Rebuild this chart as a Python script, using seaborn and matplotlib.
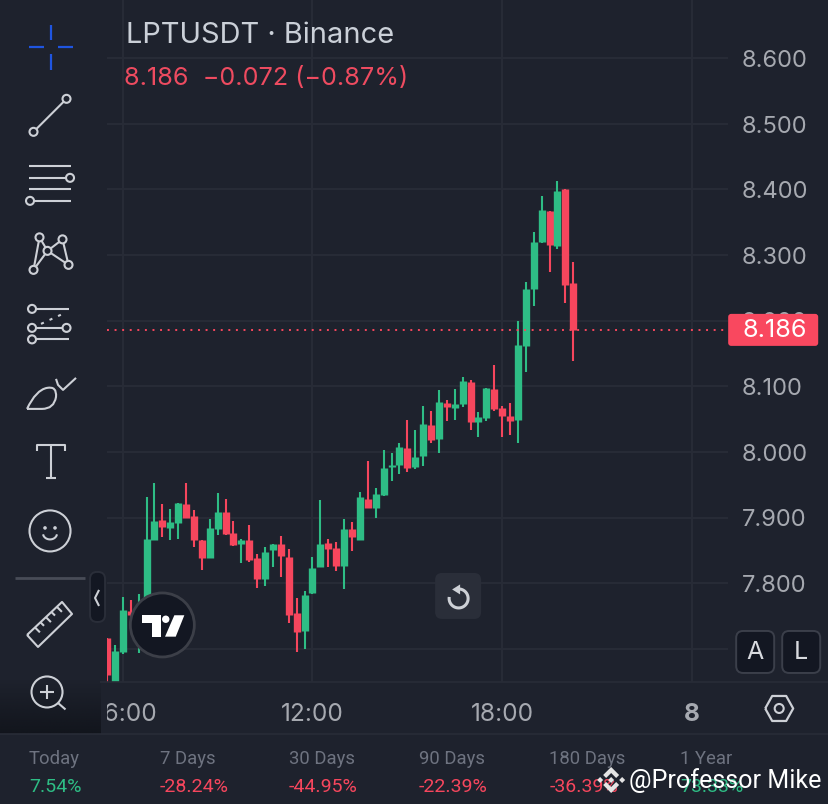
import numpy as np
import pandas as pd
import matplotlib
matplotlib.use('Agg')
import matplotlib.pyplot as plt
import seaborn as sns
from matplotlib.patches import Circle, FancyBboxPatch, PathPatch, Polygon
from matplotlib.path import Path

# 15 min candles
opens = [7.716, 7.640, 7.695, 7.758, 7.720, 7.764, 7.866, 7.896, 7.884, 7.891,
         7.920, 7.903, 7.866, 7.839, 7.883, 7.909, 7.876, 7.859, 7.866, 7.838,
         7.806, 7.851, 7.860, 7.840, 7.754, 7.727, 7.785, 7.825, 7.861, 7.854,
         7.826, 7.883, 7.866, 7.929, 7.915, 7.934, 7.977, 7.980, 8.006, 7.977,
         7.994, 8.041, 8.019, 8.075, 8.067, 8.073, 8.106, 8.045, 8.051, 8.096,
         8.067, 8.055, 8.048, 8.161, 8.249, 8.320, 8.367, 8.314, 8.400, 8.257]
closes = [7.660, 7.696, 7.759, 7.751, 7.755, 7.868, 7.894, 7.885, 7.893, 7.922,
          7.900, 7.866, 7.838, 7.884, 7.909, 7.875, 7.858, 7.866, 7.836, 7.807,
          7.848, 7.859, 7.841, 7.752, 7.725, 7.782, 7.823, 7.860, 7.852, 7.826,
          7.883, 7.871, 7.931, 7.915, 7.936, 7.976, 7.980, 8.008, 7.976, 7.992,
          8.042, 8.018, 8.076, 8.068, 8.073, 8.108, 8.046, 8.053, 8.097, 8.065,
          8.054, 8.047, 8.163, 8.249, 8.320, 8.369, 8.315, 8.398, 8.255, 8.186]
highs = [7.716, 7.706, 7.779, 7.774, 7.783, 7.931, 7.952, 7.920, 7.913, 7.922,
         7.953, 7.911, 7.866, 7.898, 7.938, 7.928, 7.895, 7.868, 7.889, 7.844,
         7.855, 7.859, 7.872, 7.852, 7.778, 7.788, 7.840, 7.926, 7.868, 7.863,
         7.898, 7.893, 7.939, 7.986, 7.945, 8.003, 7.998, 8.013, 8.049, 8.033,
         8.070, 8.063, 8.094, 8.079, 8.096, 8.114, 8.110, 8.061, 8.097, 8.132,
         8.070, 8.075, 8.200, 8.259, 8.335, 8.390, 8.367, 8.413, 8.400, 8.289]
lows = [7.650, 7.630, 7.692, 7.740, 7.694, 7.755, 7.866, 7.871, 7.866, 7.867,
        7.899, 7.855, 7.820, 7.839, 7.874, 7.873, 7.857, 7.831, 7.832, 7.793,
        7.795, 7.824, 7.809, 7.739, 7.695, 7.699, 7.783, 7.824, 7.824, 7.818,
        7.791, 7.849, 7.866, 7.915, 7.900, 7.933, 7.955, 7.966, 7.970, 7.974,
        7.978, 8.013, 7.998, 8.047, 8.048, 8.068, 8.033, 8.023, 8.047, 8.062,
        8.023, 8.026, 8.014, 8.122, 8.223, 8.318, 8.274, 8.310, 8.227, 8.139]

price_ticks = [7.7, 7.8, 7.9, 8.0, 8.1, 8.2, 8.3, 8.4, 8.5, 8.6]
price_labels = ['', '7.800', '7.900', '8.000', '8.100', '8.200', '8.300', '8.400', '8.500', '8.600']
time_ticks = [2, 26, 50, 74]
time_labels = ['06:00', '12:00', '18:00', '8']
last_price = 8.186

periods = ['Today', '7 Days', '30 Days', '90 Days', '180 Days', '1 Year']
changes = ['7.54%', '-28.24%', '-44.95%', '-22.39%', '-36.39%', '73.33%']

BG = '#1E222D'
GRID = '#282C37'
GREEN = '#2EBD85'
RED = '#F6465D'
ICON = '#CDD0D6'
DARK = '#131722'

sns.set_theme(style='dark', rc={'axes.facecolor': BG, 'figure.facecolor': BG})
plt.rcParams['font.family'] = ['Inter', 'DejaVu Sans']

# the .2 stops the canvas rounding down to 827x803
fig = plt.figure(figsize=(8.282, 8.042), dpi=100)
ax = fig.add_axes([107 / 828, 122 / 804, 621 / 828, 682 / 804])

idx = np.arange(len(opens))
direction = np.where(np.array(closes) >= np.array(opens), 'up', 'down')
palette = {'up': GREEN, 'down': RED}
base = pd.DataFrame({'i': idx, 'dir': direction, 'open': opens, 'close': closes,
                     'high': highs, 'low': lows})
wicks = base.melt(id_vars=['i', 'dir'], value_vars=['low', 'high'], value_name='price')
bodies = base.melt(id_vars=['i', 'dir'], value_vars=['open', 'close'], value_name='price')

sns.lineplot(data=wicks, x='i', y='price', hue='dir', units='i', estimator=None, palette=palette,
             lw=1.5, solid_capstyle='butt', legend=False, ax=ax, zorder=3)
sns.lineplot(data=bodies, x='i', y='price', hue='dir', units='i', estimator=None, palette=palette,
             lw=5.3, solid_capstyle='butt', legend=False, ax=ax, zorder=4)
ax.axhline(last_price, color=RED, lw=1.4, ls=(0, (1, 2.9)), zorder=5)

ax.set_xlim(0, 78.6)
ax.set_ylim(8 - 230 / 656, 8 + 452 / 656)
ax.set_xticks(time_ticks)
ax.set_xticklabels(time_labels)
ax.get_xticklabels()[3].set_fontweight('bold')
ax.set_yticks(price_ticks)
ax.set_yticklabels(price_labels)
ax.yaxis.tick_right()
ax.set_xlabel('')
ax.set_ylabel('')
ax.tick_params(axis='y', length=0, pad=10, labelsize=17, labelcolor='#A6A9B0')
ax.tick_params(axis='x', length=0, pad=15, labelsize=17.6, labelcolor='#A6A9B0')
ax.grid(True, color=GRID, lw=1.4)
ax.set_axisbelow(True)
sns.despine(ax=ax, left=True, bottom=True, right=True, top=True)

# everything around the chart is drawn in image pixels
ov = fig.add_axes([0, 0, 1, 1], zorder=5)
ov.patch.set_alpha(0)
ov.axis('off')


def line(pts, color=ICON, lw=1.5, **kw):
    pts = np.array(pts, dtype=float)
    ov.plot(pts[:, 0], pts[:, 1], color=color, lw=lw, solid_capstyle=kw.pop('cap', 'butt'), **kw)


def ring(x, y, r, color=ICON, lw=1.5, fill=BG):
    ov.add_patch(Circle((x, y), r, fc=fill, ec=color, lw=lw, zorder=3))


def box(x0, y0, x1, y1, fc, ec='none', lw=1.4, rad=6):
    ov.add_patch(FancyBboxPatch((x0, y0), x1 - x0, y1 - y0, boxstyle='round,pad=0,rounding_size=%d' % rad,
                                fc=fc, ec=ec, lw=lw, zorder=2))


# left toolbar and bottom strip
ov.add_patch(plt.Rectangle((0, 0), 107, 734, fc=BG, ec='none', zorder=1))
shade = np.zeros((60, 1, 4))
shade[:, :, :3] = matplotlib.colors.to_rgb('#0E1117')
shade[:, 0, 3] = np.linspace(0, 0.75, 60)
ov.imshow(shade, extent=(0, 100, 734, 680), aspect='auto', zorder=1)
line([(100, 682), (828, 682)], GRID, 1.2)
line([(0, 734), (828, 734)], '#282C37', 1.2)

# crosshair
blue = '#1F55E0'
for seg in ([(29, 47), (44, 47)], [(58, 47), (73, 47)], [(51, 25), (51, 40)], [(51, 54), (51, 70)]):
    line(seg, blue, 1.6)

# trend line
line([(33.5, 132), (66.5, 99)])
ring(33.5, 132, 4)
ring(66.5, 99, 4)

# parallel lines
line([(29, 166), (71, 166)])
line([(29, 178), (68, 178)])
ring(70, 178, 4)
line([(29, 189), (71, 189)])
line([(32, 201), (71, 201)])
ring(30, 201, 4)

# pattern
a, b, c, d, e = (39.5, 237.5), (62.5, 239.5), (47.5, 251), (68.5, 265), (33.5, 270)
for p, q in ((a, e), (a, c), (c, b), (b, d), (c, d), (c, e)):
    line([p, q])
for p in (a, b, c, d, e):
    ring(p[0], p[1], 4)

# fib
line([(34, 309), (69, 309)])
ring(32, 309, 4)
line([(41, 324), (65, 313)], lw=1.5, ls=(0, (1.5, 3)))
line([(34, 328), (66, 328)])
ring(32, 328, 4)
ring(66.5, 328, 4)
line([(34, 339.5), (69, 339.5)])
ring(32, 339.5, 4)

# brush
brush = Path([(27, 409), (36, 390), (47, 388), (57, 386), (56, 397), (54, 409), (42, 409), (27, 409)],
             [Path.MOVETO, Path.CURVE3, Path.CURVE3, Path.CURVE3, Path.CURVE3, Path.CURVE3, Path.CURVE3, Path.LINETO])
ov.add_patch(PathPatch(brush, fc='none', ec=ICON, lw=1.5, zorder=3))
line([(56, 379), (58, 385), (63, 390), (76, 378)])

# text tool
line([(37, 451), (37, 445), (65, 445), (65, 451)])
line([(51, 445), (51, 478)])
line([(46, 478), (56, 478)])

# smiley
ring(50, 531, 20.5)
ov.add_patch(Circle((45, 528), 1.8, fc=ICON, ec='none', zorder=4))
ov.add_patch(Circle((55, 528), 1.8, fc=ICON, ec='none', zorder=4))
ang = np.linspace(0.15, np.pi - 0.15, 20)
line(np.c_[50 + 7 * np.cos(ang), 533.5 + 6 * np.sin(ang)], zorder=4)

# separator and collapse handle
line([(15, 578), (85, 578)], '#484C57', 2)
box(90, 572, 105, 622, DARK, '#2A2E39', rad=7)
line([(99, 590), (95, 598), (99, 606)], lw=1.5, zorder=4)

# ruler
line([(27, 635), (62, 602), (72, 614), (38, 647), (27, 635)])
for k, (tx, ty) in enumerate(zip(np.linspace(35, 57, 5), np.linspace(627.5, 607, 5))):
    s = 7 if k % 2 == 0 else 5
    line([(tx, ty), (tx + s * 0.7, ty + s * 0.7)])

# zoom
ring(47, 692, 15.5, fill='none')
line([(40, 692), (54, 692)], zorder=4)
line([(47, 685), (47, 699)], zorder=4)
line([(58, 703), (65.5, 709.5)])

# TV badge
ring(162.3, 625, 32, '#3C3F48', 2, DARK)
for poly in ([(142.3, 615.3), (160.7, 615.3), (160.7, 636.7), (152, 636.7), (152, 623.3), (142.3, 623.3)],
             [(174.3, 615.3), (184.3, 615.3), (175.7, 636.7), (165, 636.7)]):
    ov.add_patch(Polygon(poly, fc='white', ec='none', zorder=4))
ov.add_patch(Circle((165.7, 619.3), 3.7, fc='white', ec='none', zorder=4))

# reset button
box(435, 573, 481, 619, '#2A2E39', rad=7)
ang = np.linspace(-np.pi / 2 + 0.1, np.pi * 1.05, 40)
line(np.c_[458.5 + 9.5 * np.cos(ang), 598.5 + 9.5 * np.sin(ang)], ICON, 2.2, zorder=4)
ov.add_patch(Polygon([(452, 589.5), (460, 584.5), (460, 594.5)], fc=ICON, ec='none', zorder=4))

# A / L buttons
box(736, 631, 774, 673, DARK, '#3B3F4A', rad=7)
box(782, 631, 820, 673, DARK, '#3B3F4A', rad=7)
ov.text(755, 652, 'A', color='#D8DADF', fontsize=18, ha='center', va='center', zorder=5)
ov.text(801, 652, 'L', color='#D8DADF', fontsize=18, ha='center', va='center', zorder=5)

# settings hexagon
line([(765, 708.5), (772, 696), (786, 696), (793, 708.5), (786, 721), (772, 721), (765, 708.5)], lw=1.6)
ring(779, 708.5, 4.5)

# header
ov.text(126, 43, 'LPTUSDT · Binance', color='#CBD0D8', fontsize=20.9, ha='left', va='baseline', zorder=5)
ov.text(124, 85, '8.186  −0.072 (−0.87%)', color='#EE4B60', fontsize=18.1, ha='left', va='baseline', zorder=5)

# last price tag
box(728, 314, 818, 346, '#F9485F', rad=3)
ov.text(775, 330.5, '8.186', color='white', fontsize=18.2, ha='center', va='center', zorder=5)

# period stats
for x, name, val in zip([29, 160, 289, 419, 549, 680], periods, changes):
    ov.text(x, 764, name, color='#6E7380', fontsize=13.3, family='Roboto', ha='left', va='baseline', zorder=3)
    col = RED if val.startswith('-') else GREEN
    ov.text(x, 792, val, color=col, fontsize=14, family='Roboto', ha='left', va='baseline', zorder=3)

# watermark
wm = '#E4E4E4'
ov.add_patch(Polygon([(611, 767), (619, 775), (616, 778), (611, 773), (606, 778), (603, 775)], fc=wm, ec='none', zorder=6))
ov.add_patch(Polygon([(611, 793), (619, 785), (616, 782), (611, 787), (606, 782), (603, 785)], fc=wm, ec='none', zorder=6))
for cx, hw in ((600, 3), (622, 3), (611, 3)):
    ov.add_patch(Polygon([(cx - hw, 780), (cx, 780 - hw), (cx + hw, 780), (cx, 780 + hw)], fc=wm, ec='none', zorder=6))
ov.text(629, 788, '@Professor Mike', color='white', fontsize=18.1, family='Roboto', ha='left', va='baseline', zorder=6)

ov.set_xlim(0, 828)
ov.set_ylim(804, 0)

fig.savefig('out.png', dpi=100, facecolor=BG)
